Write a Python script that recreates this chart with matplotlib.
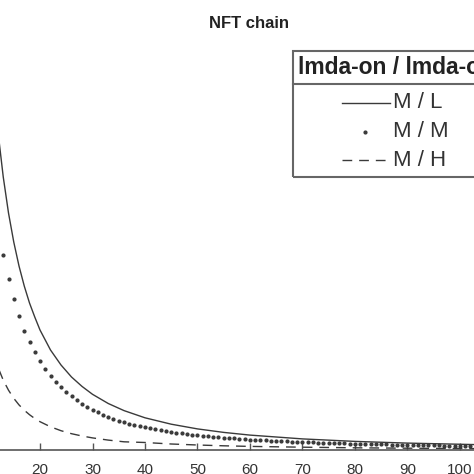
import matplotlib.pyplot as plt
from matplotlib.patches import Rectangle
from matplotlib.lines import Line2D

# datos (curvas cortadas por la izquierda y la derecha)
x_lineas = [11, 12, 13, 14, 15, 16, 17, 18, 19, 20, 22, 24, 26, 28, 30, 33, 36,
            40, 45, 50, 55, 60, 70, 80, 90, 103]
m_l = [375, 318, 273, 237, 208, 184, 164, 147, 133, 120, 100, 85, 73, 63.6, 55.7,
       46.5, 39.4, 32.2, 25.8, 21.1, 17.6, 14.9, 11.1, 8.6, 6.9, 5.4]
m_h = [99, 82.6, 69.8, 59.8, 51.7, 45.1, 39.8, 35.3, 31.5, 28.3, 23.2, 19.3, 16.3,
       14.0, 12.1, 9.9, 8.2, 7.5, 6.0, 5.0, 4.2, 3.6, 2.8, 2.2, 1.8, 1.4]

x_puntos = list(range(13, 103))
m_m = [195, 171, 151, 134, 119, 108, 98, 89, 81, 74, 68, 63, 58, 54, 50, 46, 43, 40,
       38, 35.5, 33.5, 31.5, 29.5, 28, 26.5, 25, 24, 22.8, 21.7, 20.7, 19.8, 18.9,
       18, 17.3, 16.6, 16, 15.4, 14.8, 14.3, 13.8, 13.3, 12.8, 12.4, 12, 11.6, 11.2,
       10.9, 10.5, 10.2, 9.9, 9.6, 9.4, 9.1, 8.9, 8.6, 8.4, 8.2, 8, 7.8, 7.6, 7.4,
       7.2, 7.1, 6.9, 6.7, 6.6, 6.4, 6.3, 6.2, 6, 5.9, 5.8, 5.7, 5.6, 5.5, 5.3, 5.2,
       5.1, 5, 4.9, 4.85, 4.8, 4.7, 4.6, 4.5, 4.45, 4.4, 4.3, 4.2, 4.15]

ticks_x = [20, 30, 40, 50, 60, 70, 80, 90, 100]

W = 474
color = '#3a3a3a'

fig = plt.figure(figsize=(4.74, 4.74), dpi=100)
ax = fig.add_axes([0, 24 / W, 1, 450 / W])

ax.plot(x_lineas, m_l, '-', color=color, lw=1.0)
ax.plot(x_puntos, m_m, '.', color=color, ms=4, ls='none')
ax.plot(x_lineas, m_h, '--', color=color, lw=1.0, dashes=(7, 5))

ax.set_xlim(12.38, 102.67)
ax.set_ylim(0, 450)
ax.set_xticks(ticks_x)
ax.set_yticks([])
for lado in ['left', 'right', 'top']:
    ax.spines[lado].set_visible(False)
ax.spines['bottom'].set_color('#555555')
ax.spines['bottom'].set_linewidth(1.2)
ax.tick_params(axis='x', direction='in', length=5, width=1, color='#555555',
               labelcolor='#333333', labelsize=11, pad=9)
for t in ax.get_xticklabels():
    t.set_family('Liberation Sans')


def fx(x):
    return x / W


def fy(y):
    return 1 - y / W


# titulo
fig.text(fx(249), fy(23), 'NFT chain', ha='center', va='center',
         family='Liberation Sans', weight='bold', fontsize=12, color='#222222')

# leyenda dibujada a mano (sale cortada por la derecha)
fig.add_artist(Rectangle((fx(293), fy(177)), fx(200), (177 - 51) / W,
                         transform=fig.transFigure, fill=False,
                         edgecolor='#666666', lw=1.5))
fig.add_artist(Line2D([fx(293), fx(480)], [fy(84), fy(84)],
                      transform=fig.transFigure, color='#666666', lw=1.5))
fig.text(fx(298), fy(68), 'lmda-on / lmda-off', ha='left', va='center',
         family='Liberation Sans', weight='bold', fontsize=16.5, color='#222222')

etiquetas = ['M / L', 'M / M', 'M / H']
ys = [103, 132, 160]
fig.add_artist(Line2D([fx(342), fx(390)], [fy(103), fy(103)],
                      transform=fig.transFigure, color=color, lw=1.0))
fig.add_artist(Line2D([fx(365)], [fy(132)], transform=fig.transFigure,
                      color=color, marker='.', ms=4, ls='none'))
fig.add_artist(Line2D([fx(342), fx(390)], [fy(160), fy(160)],
                      transform=fig.transFigure, color=color, lw=1.0,
                      ls='--', dashes=(7, 5)))
for etiqueta, y in zip(etiquetas, ys):
    fig.text(fx(393), fy(y), etiqueta, ha='left', va='center',
             family='Liberation Sans', fontsize=16, color='#333333')

fig.savefig('out.png', dpi=100)
